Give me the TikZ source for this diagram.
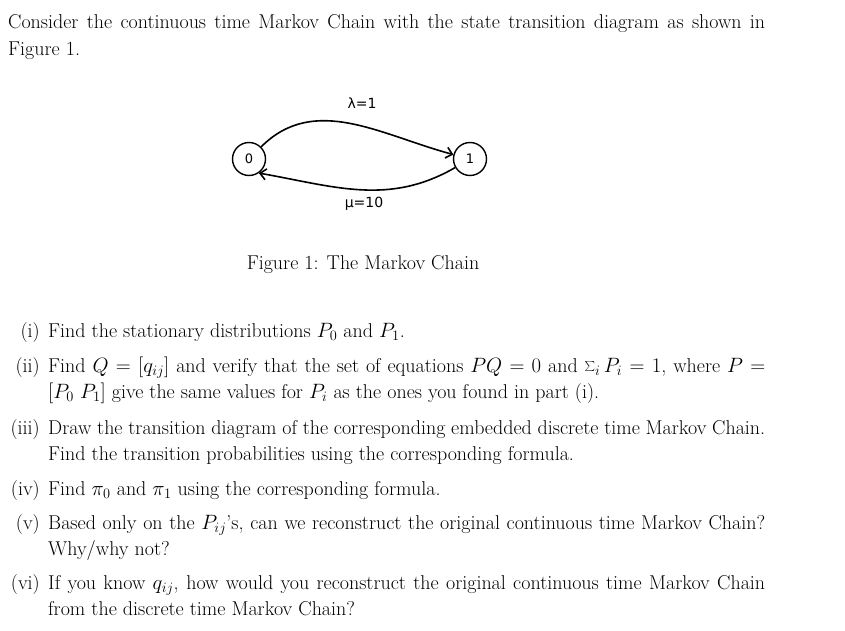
\documentclass[tikz,border=0pt]{standalone}
\usepackage{fontspec}
\newfontfamily\djvfont{DejaVu Sans}
\usetikzlibrary{arrows.meta}
\begin{document}
\begin{tikzpicture}[x=1pt,y=-1pt,
  txt/.style={anchor=base west,inner sep=0pt,font=\fontsize{20}{22}\selectfont},
  lab/.style={anchor=base east,inner sep=0pt,font=\fontsize{20}{22}\selectfont},
  st/.style={draw,circle,minimum size=33pt,inner sep=0pt,line width=1.4pt,font=\djvfont\fontsize{13}{14}\selectfont},
  arr/.style={line width=1.6pt,-{Straight Barb[length=6pt,width=11pt]}},
  el/.style={font=\djvfont\fontsize{14}{16}\selectfont,inner sep=0pt}]
\useasboundingbox (0,0) rectangle (845,631);
\node[st] (s0) at (249,159) {0};
\node[st] (s1) at (470,159) {1};
\draw[arr] (s0) to[out=45,in=165] (s1);
\draw[arr] (s1) to[out=-150,in=-10] (s0.-55);
\node[el] (l) at (362,103) {λ=1};
\node[el] (m) at (364,204) {μ=10};
\node[txt,anchor=base] (cap) at (363,269) {Figure 1: The Markov Chain};
\node[txt] (t1) at (8,29) {\makebox[757pt][s]{Consider the continuous time Markov Chain with the state transition diagram as shown in}};
\node[txt] (t2) at (8,56) {Figure 1.};
\node[lab] (a) at (40,337) {(i)};
\node[txt] (a1) at (48,337) {Find the stationary distributions $P_0$ and $P_1$.};
\node[lab] (b) at (40,372) {(ii)};
\node[txt] (b1) at (48,372) {\makebox[717pt][s]{Find $Q=[q_{ij}]$ and verify that the set of equations $PQ=0$ and $\sum_i P_i=1$, where $P=$}};
\node[txt] (b2) at (48,398) {$[P_0\ P_1]$ give the same values for $P_i$ as the ones you found in part (i).};
\node[lab] (c) at (40,434) {(iii)};
\node[txt] (c1) at (48,434) {\makebox[717pt][s]{Draw the transition diagram of the corresponding embedded discrete time Markov Chain.}};
\node[txt] (c2) at (48,460) {Find the transition probabilities using the corresponding formula.};
\node[lab] (d) at (40,495) {(iv)};
\node[txt] (d1) at (48,495) {Find $\pi_0$ and $\pi_1$ using the corresponding formula.};
\node[lab] (e) at (40,529) {(v)};
\node[txt] (e1) at (48,529) {\makebox[717pt][s]{Based only on the $P_{ij}$'s, can we reconstruct the original continuous time Markov Chain?}};
\node[txt] (e2) at (48,555) {Why/why not?};
\node[lab] (f) at (40,589) {(vi)};
\node[txt] (f1) at (48,589) {\makebox[717pt][s]{If you know $q_{ij}$, how would you reconstruct the original continuous time Markov Chain}};
\node[txt] (f2) at (48,615) {from the discrete time Markov Chain?};
\end{tikzpicture}
\end{document}
